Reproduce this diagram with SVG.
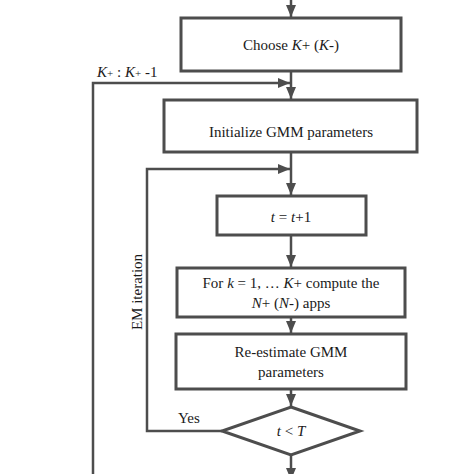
<svg xmlns="http://www.w3.org/2000/svg" width="474" height="474" viewBox="0 0 474 474">
<defs>
<style>
.box{fill:#fff;stroke:#4d4d4d;stroke-width:3}
.ln{fill:none;stroke:#4d4d4d;stroke-width:2.5}
text{font-family:"Liberation Serif","Times New Roman",serif;font-size:15px;fill:#1a1a1a}
.c{text-anchor:middle}
.i{font-style:italic}
.sub{font-size:11px}
</style>
<marker id="ah" viewBox="0 0 12 10" refX="12" refY="5" markerWidth="12" markerHeight="10" markerUnits="userSpaceOnUse" orient="auto">
<path d="M0,0 L12,5 L0,10 Z" fill="#4d4d4d"/>
</marker>
</defs>
<rect width="474" height="474" fill="#fff"/>
<g id="connectors">
<line class="ln" x1="291" y1="0" x2="291" y2="17" marker-end="url(#ah)"/>
<line class="ln" x1="291" y1="71" x2="291" y2="99" marker-end="url(#ah)"/>
<polyline class="ln" points="93,474 93,83 290,83" marker-end="url(#ah)"/>
<line class="ln" x1="291" y1="152" x2="291" y2="195" marker-end="url(#ah)"/>
<polyline class="ln" points="222,431 147,431 147,169 290,169" marker-end="url(#ah)"/>
<line class="ln" x1="291" y1="235" x2="291" y2="267" marker-end="url(#ah)"/>
<line class="ln" x1="291" y1="317" x2="291" y2="333" marker-end="url(#ah)"/>
<line class="ln" x1="291" y1="389" x2="291" y2="406" marker-end="url(#ah)"/>
<line class="ln" x1="291" y1="455" x2="291" y2="480" marker-end="url(#ah)"/>
</g>
<g id="lbl-k"><text x="97" y="77"><tspan class="i">K</tspan><tspan class="sub">+</tspan> : <tspan class="i">K</tspan><tspan class="sub">+</tspan> -1</text></g>
<g id="lbl-em"><text class="c" transform="translate(142,292) rotate(-90)">EM iteration</text></g>
<g id="lbl-yes"><text x="178" y="423">Yes</text></g>
<g id="n-choose"><rect class="box" x="181" y="18" width="220" height="53"/>
<text class="c" x="291" y="50">Choose <tspan class="i">K</tspan>+ (<tspan class="i">K</tspan>-)</text></g>
<g id="n-init"><rect class="box" x="164" y="100" width="253" height="52"/>
<text class="c" x="291" y="137">Initialize GMM parameters</text></g>
<g id="n-t"><rect class="box" x="217" y="196" width="149" height="39"/>
<text class="c" x="291" y="222"><tspan class="i">t</tspan> = <tspan class="i">t</tspan>+1</text></g>
<g id="n-for"><rect class="box" x="177" y="268" width="228" height="49"/>
<text class="c" x="291" y="288">For <tspan class="i">k</tspan> = 1, … <tspan class="i">K</tspan>+ compute the</text>
<text class="c" x="291" y="308"><tspan class="i">N</tspan>+ (<tspan class="i">N</tspan>-) apps</text></g>
<g id="n-re"><rect class="box" x="176" y="334" width="230" height="55"/>
<text class="c" x="291" y="357">Re-estimate GMM</text>
<text class="c" x="291" y="377">parameters</text></g>
<g id="n-dec"><polygon class="box" points="291,407 360,431 291,455 222,431"/>
<text class="c" x="291" y="436"><tspan class="i">t</tspan> &lt; <tspan class="i">T</tspan></text></g>
</svg>
